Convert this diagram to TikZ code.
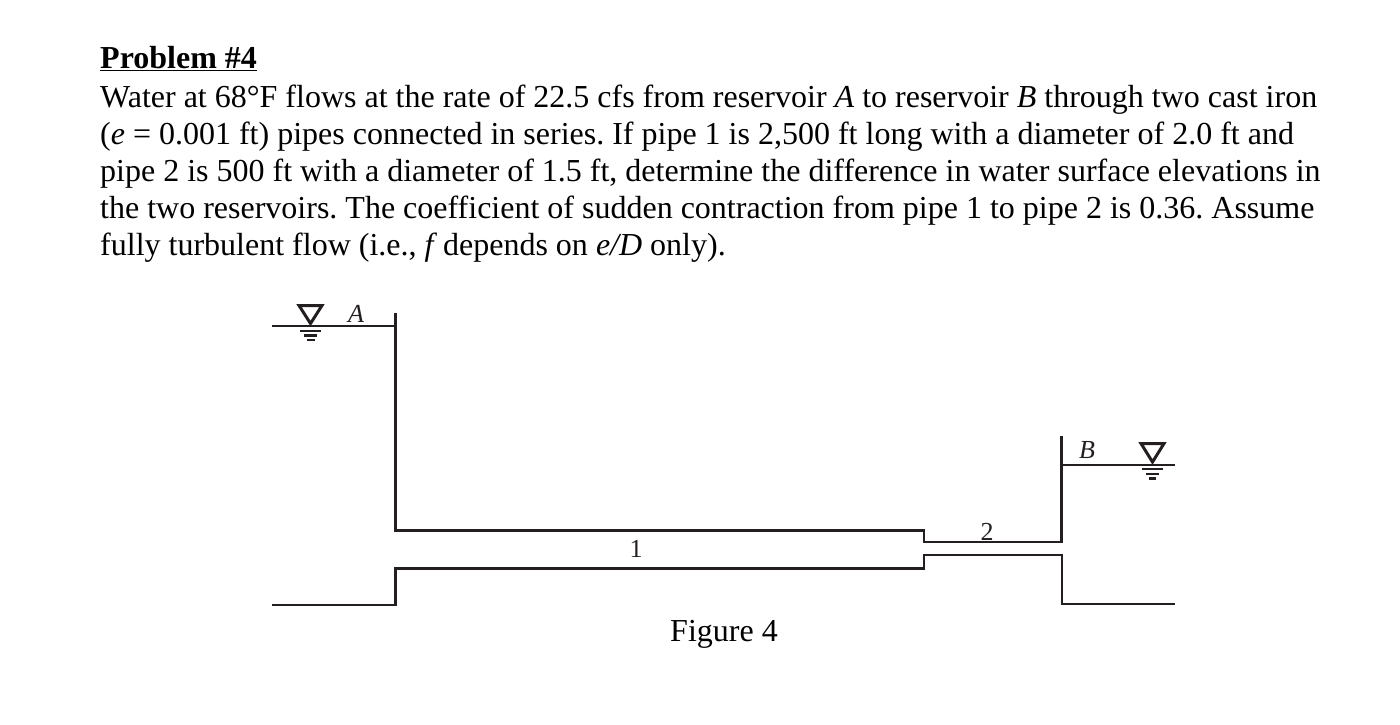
\documentclass[tikz,border=0pt]{standalone}
\usepackage{fontspec}
\setmainfont{Liberation Serif}
\frenchspacing
\tikzset{
  wall/.style={line width=2.8pt,line cap=butt,line join=miter,draw={rgb,255:red,35;green,31;blue,32}},
  tri/.style={line width=3pt,line join=miter,draw={rgb,255:red,35;green,31;blue,32}},
  tick/.style={line width=2.6pt,draw={rgb,255:red,35;green,31;blue,32}},
  para/.style={anchor=base west,inner sep=0pt,font=\fontsize{32pt}{36pt}\selectfont},
  lab/.style={anchor=base,inner sep=0pt,text={rgb,255:red,35;green,31;blue,32},font=\fontsize{26pt}{28pt}\selectfont},
}
\begin{document}
\begin{tikzpicture}[x=1pt,y=-1pt]
\useasboundingbox (0,0) rectangle (1400,724);
\node[para,font=\fontsize{32pt}{36pt}\selectfont\bfseries] (title) at (100,68) {\underline{Problem \#4}};
\node[para] (l1) at (100,107) {Water at 68°F flows at the rate of 22.5 cfs from reservoir \textit{A} to reservoir \textit{B} through two cast iron};
\node[para] (l2) at (100,144) {(\textit{e} = 0.001 ft) pipes connected in series. If pipe 1 is 2,500 ft long with a diameter of 2.0 ft and};
\node[para] (l3) at (100,181) {pipe 2 is 500 ft with a diameter of 1.5 ft, determine the difference in water surface elevations in};
\node[para] (l4) at (100,218) {the two reservoirs. The coefficient of sudden contraction from pipe 1 to pipe 2 is 0.36. Assume};
\node[para] (l5) at (100,255) {fully turbulent flow (i.e., \textit{f}\kern-2pt\ depends on \textit{e/D} only).};
\node[para] (fig) at (670,641) {Figure 4};
\node[lab] (la) at (356,322) {\textit{A}};
\node[lab] (lb) at (1087,458) {\textit{B}};
\node[lab] (p1) at (636,557) {1};
\node[lab] (p2) at (987,540) {2};
% upper outline
\draw[wall] (272,326) -- (395.5,326);
\draw[wall] (395.5,313) -- (395.5,530.5) -- (924,530.5) -- (924,542) -- (1061.5,542) -- (1061.5,436);
\draw[wall] (1061.5,465) -- (1175,465);
% lower outline
\draw[wall] (272,605) -- (395.5,605) -- (395.5,568.5) -- (924,568.5) -- (924,555) -- (1062,555) -- (1062,604) -- (1175,604);
% water surface A
\draw[tri] (299,305.5) -- (322,305.5) -- (310.5,323.5) -- cycle;
\draw[tick] (300,331) -- (321,331);
\draw[tick] (304,335.5) -- (317,335.5);
\draw[tick] (306.5,340) -- (314.5,340);
% water surface B
\draw[tri] (1141,443.5) -- (1164,443.5) -- (1152.5,462) -- cycle;
\draw[tick] (1142,469) -- (1163,469);
\draw[tick] (1146,474) -- (1159,474);
\draw[tick] (1149,478.5) -- (1156,478.5);
\end{tikzpicture}
\end{document}
